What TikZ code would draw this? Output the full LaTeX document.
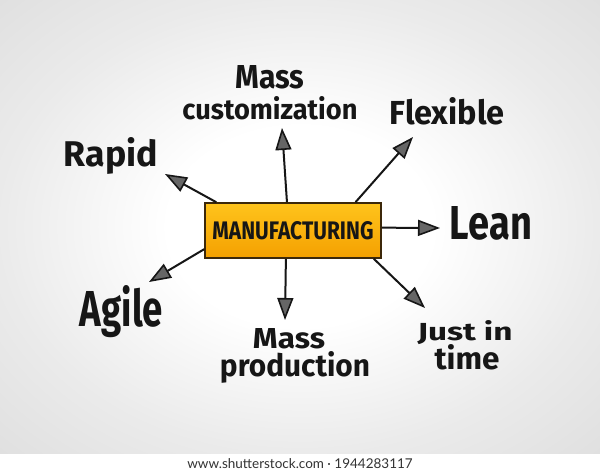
\documentclass[tikz,border=0pt]{standalone}
\usepackage{fontspec}
\setmainfont{Fira Sans}
\newfontfamily\hand{Fira Sans}
\newfontfamily\foot{Lato}
\usetikzlibrary{arrows.meta,calc}
\newcommand{\lab}[3]{\resizebox{#1}{#2}{\hand\bfseries #3}}
\pgfdeclareradialshading{bgshade}{\pgfpoint{0bp}{0bp}}{color(0bp)=(white); color(11bp)=(white); color(25bp)=(black!8); color(35bp)=(black!12); color(50bp)=(black!12)}
\definecolor{boxtop}{RGB}{255,196,28}
\definecolor{boxbot}{RGB}{244,160,0}
\definecolor{boxline}{RGB}{60,40,10}
\definecolor{ink}{RGB}{22,22,22}
\begin{document}
\begin{tikzpicture}[x=1pt,y=-1pt,
  lbl/.style={anchor=base,inner sep=0pt,text=ink},
  conn/.style={draw=ink,line width=2pt,-{Triangle[length=22pt,width=16pt,fill=black!60,line width=1.6pt]}},
  mainbox/.style={draw=boxline,line width=1.6pt,top color=boxtop,bottom color=boxbot,
    minimum width=176pt,minimum height=55pt,inner sep=0pt,text=ink}
  ]
\useasboundingbox (0,0) rectangle (600,473);
\fill[white] (0,0) rectangle (600,473);
\shade[shading=bgshade] (0,0) rectangle (600,453);

\node[mainbox] (m) at (293,230.5) {\lab{161pt}{18pt}{MANUFACTURING}};

\coordinate (t-rapid) at (165,174);
\coordinate (t-cust) at (282,128);
\coordinate (t-flex) at (413,137);
\coordinate (t-lean) at (440,228);
\coordinate (t-agile) at (149,282);
\coordinate (t-prod) at (285,320);
\coordinate (t-jit) at (425,308);

\draw[conn] ($(m.north west)!0.068!(m.north east)$) -- (t-rapid);
\draw[conn] ($(m.north west)!0.466!(m.north east)$) -- (t-cust);
\draw[conn] ($(m.north west)!0.852!(m.north east)$) -- (t-flex);
\draw[conn] ($(m.north east)!0.45!(m.south east)$) -- (t-lean);
\draw[conn] ($(m.north west)!0.83!(m.south west)$) -- (t-agile);
\draw[conn] ($(m.south west)!0.46!(m.south east)$) -- (t-prod);
\draw[conn] ($(m.south west)!0.955!(m.south east)$) -- (t-jit);

\node[lbl] (rapid) at (111,167) {\lab{94pt}{29pt}{Rapid}};
\node[lbl] (agile) at (121.5,326) {\lab{83pt}{41pt}{Agile}};
\node[lbl] (lean) at (491,240) {\lab{82pt}{33pt}{Lean}};
\node[lbl] (flex) at (447,125) {\lab{115pt}{27pt}{Flexible}};
\node[lbl] (cust1) at (270,89) {\lab{69pt}{23pt}{Mass}};
\node[lbl] (cust2) at (270,120) {\lab{175pt}{23pt}{customization}};
\node[lbl] (prod1) at (289,348) {\lab{72pt}{20pt}{Mass}};
\node[lbl] (prod2) at (295,376) {\lab{150pt}{25pt}{production}};
\node[lbl] (jit1) at (465,340) {\lab{95pt}{20pt}{Just in}};
\node[lbl] (jit2) at (467,370) {\lab{65pt}{25pt}{time}};

\node[anchor=base,inner sep=0pt,text=black!80,font=\foot\fontsize{13.5}{14}\selectfont] (footer) at (300,468) {www.shutterstock.com · 1944283117};
\end{tikzpicture}
\end{document}
